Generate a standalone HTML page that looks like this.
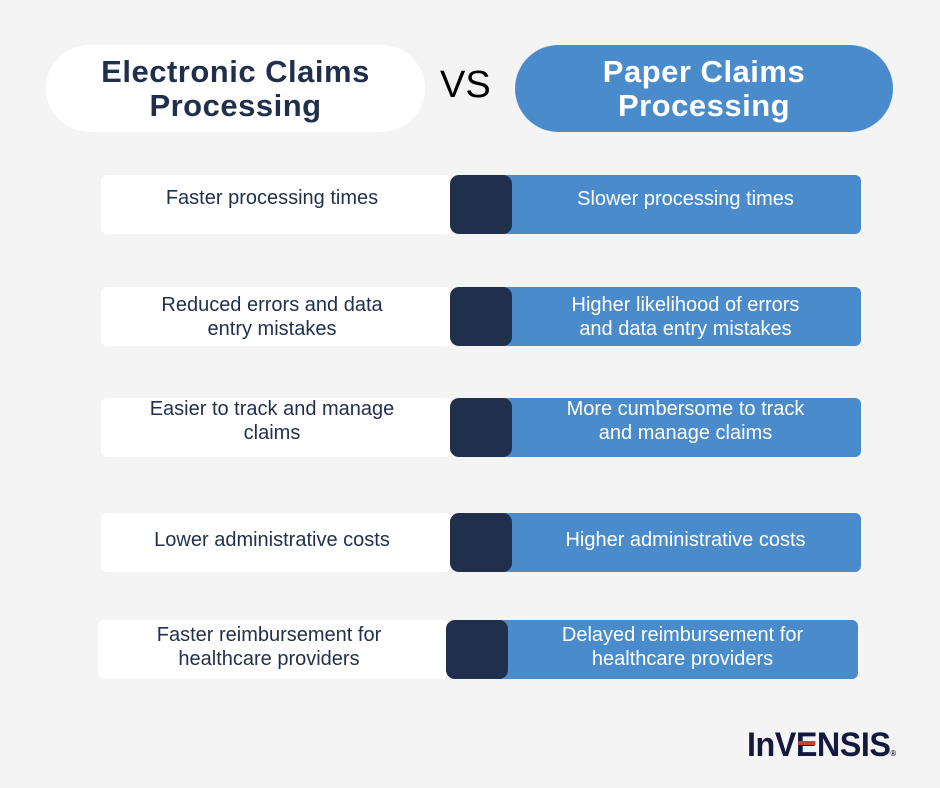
<!DOCTYPE html><html><head><style>
body{margin:0;width:940px;height:788px;background:#f4f4f4;position:relative;overflow:hidden;font-family:"Liberation Sans",sans-serif;color:#1f2f4c}
.a{position:absolute}
.pill{position:absolute;top:45px;height:87px;border-radius:44px;display:flex;align-items:center;justify-content:center;text-align:center;font-weight:900;font-size:31px;line-height:34px;letter-spacing:0.5px}
.w{background:#fff;border-radius:6px;display:flex;align-items:center;justify-content:center;text-align:center;font-size:20px;line-height:24px}
.b{background:#4a8ccb;color:#fff;border-radius:6px;display:flex;align-items:center;justify-content:center;text-align:center;font-size:20px;line-height:24px;padding-left:40px;box-sizing:border-box}
.d{background:#1f2f4c;border-radius:9px}
</style></head><body>
<div class="pill" style="left:46px;width:379px;background:#fff;color:#1f2f4c">Electronic Claims<br>Processing</div>
<div class="a" style="left:440px;top:64px;font-size:38px;color:#000">VS</div>
<div class="pill" style="left:515px;width:378px;background:#4a8ccb;color:#fff">Paper Claims<br>Processing</div>

<div class="a w" style="left:101px;top:175px;width:350px;height:59px;padding-bottom:14px;padding-right:8px;box-sizing:border-box">Faster processing times</div>
<div class="a b" style="left:470px;top:175px;width:391px;height:59px;padding-bottom:12px">Slower processing times</div>
<div class="a d" style="left:450px;top:175px;width:62px;height:59px"></div>

<div class="a w" style="left:101px;top:287px;width:350px;height:59px;padding-right:8px;box-sizing:border-box">Reduced errors and data<br>entry mistakes</div>
<div class="a b" style="left:470px;top:287px;width:391px;height:59px">Higher likelihood of errors<br>and data entry mistakes</div>
<div class="a d" style="left:450px;top:287px;width:62px;height:59px"></div>

<div class="a w" style="left:101px;top:398px;width:350px;height:59px;padding-bottom:14px;padding-right:8px;box-sizing:border-box">Easier to track and manage<br>claims</div>
<div class="a b" style="left:470px;top:398px;width:391px;height:59px;padding-bottom:14px">More cumbersome to track<br>and manage claims</div>
<div class="a d" style="left:450px;top:398px;width:62px;height:59px"></div>

<div class="a w" style="left:101px;top:513px;width:350px;height:59px;padding-bottom:6px;padding-right:8px;box-sizing:border-box">Lower administrative costs</div>
<div class="a b" style="left:470px;top:513px;width:391px;height:59px;padding-bottom:6px">Higher administrative costs</div>
<div class="a d" style="left:450px;top:513px;width:62px;height:59px"></div>

<div class="a w" style="left:98px;top:620px;width:350px;height:59px;padding-bottom:6px;padding-right:8px;box-sizing:border-box">Faster reimbursement for<br>healthcare providers</div>
<div class="a b" style="left:467px;top:620px;width:391px;height:59px;padding-bottom:6px">Delayed reimbursement for<br>healthcare providers</div>
<div class="a d" style="left:446px;top:620px;width:62px;height:59px"></div>

<div class="a" style="left:747px;top:726px;font-size:34px;font-weight:bold;color:#16193f;letter-spacing:-0.5px;transform:scaleX(0.95);transform-origin:left">InV<span style="position:relative">E<span style="position:absolute;left:3px;top:15px;width:18px;height:4px;background:#d23a44"></span></span>NSIS<span style="font-size:8px">®</span></div>
</body></html>
